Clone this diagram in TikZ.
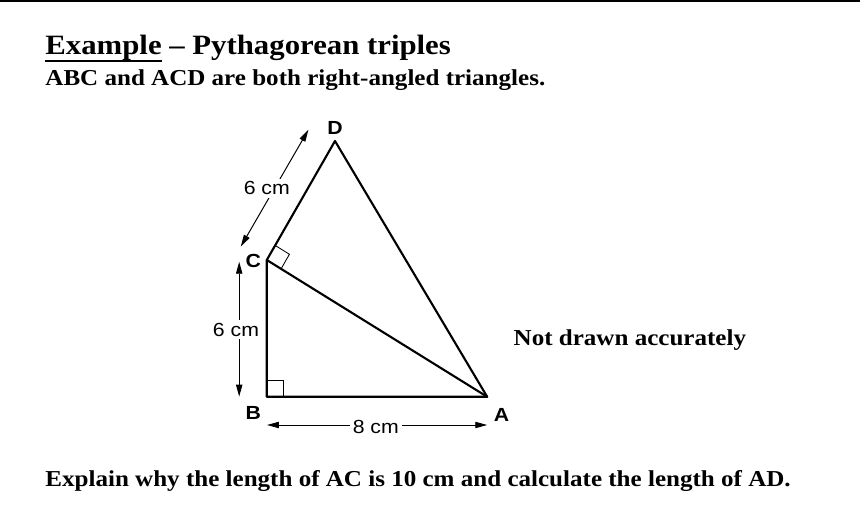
\documentclass[tikz,border=0pt]{standalone}
\usepackage{fontspec}
\setmainfont{Liberation Serif}[FakeStretch=1.1]
\newfontfamily\labelfont{Liberation Sans}[FakeStretch=1.12]
\usepackage{tkz-euclide}
\usetikzlibrary{arrows.meta}
\newcommand\ulword[1]{\setbox0\hbox{#1}\rlap{\rule[-0.29em]{\wd0}{0.075em}}#1}
\tikzset{
  dimline/.style={line width=0.7pt,{Triangle[length=8.5pt,width=4.5pt]}-{Triangle[length=8.5pt,width=4.5pt]}},
  dimlabel/.style={fill=white,inner sep=2pt,font=\labelfont\fontsize{13.5}{16}\selectfont},
  vertex/.style={font=\labelfont\bfseries\fontsize{13.5}{16}\selectfont},
  heading/.style={anchor=base west,inner sep=0pt,font=\bfseries\fontsize{16.2}{19}\selectfont}
}

\begin{document}
\begin{tikzpicture}
  \useasboundingbox (0,0) rectangle (21.5,13.275);
  \tkzDefPoints{0/13.256/L,21.5/13.256/R}
  \tkzDrawSegment[line width=1.1pt](L,R)
  \tkzDefPoints{6.67/3.355/B,12.18/3.355/A,6.67/6.775/C,8.375/9.75/D}
  \tkzDrawPolygon[line width=1.5pt](A,B,C,D)
  \tkzDrawSegment[line width=1.5pt](C,A)
  \tkzMarkRightAngle[size=0.42,line width=0.6pt](A,B,C)
  \tkzMarkRightAngle[size=0.42,line width=0.6pt](A,C,D)
  \node[vertex] (lA) at (12.54,2.9) {A};
  \node[vertex] (lB) at (6.33,2.94) {B};
  \node[vertex] (lC) at (6.33,6.76) {C};
  \node[vertex] (lD) at (8.375,10.07) {D};
  \tkzDefPoints{5.98/6.73/b1,5.98/3.36/b2,6.675/2.65/a1,12.18/2.65/a2,6.02/7.11/c1,7.71/10.03/c2}
  \draw[dimline] (b1) -- (b2);
  \node[dimlabel] (bc) at (5.9,5.03) {6 cm};
  \draw[dimline] (a1) -- (a2);
  \node[dimlabel] (ab) at (9.395,2.61) {8 cm};
  \draw[dimline] (c1) -- (c2);
  \node[dimlabel] (cd) at (6.67,8.57) {6 cm};
  \node[heading,font=\bfseries\fontsize{19.9}{23}\selectfont] (title) at (1.125,11.9175) {\ulword{Example} -- Pythagorean triples};
  \node[heading] (intro) at (1.125,11.1325) {ABC and ACD are both right-angled triangles.};
  \node[heading] (note) at (12.8325,4.6325) {Not drawn accurately};
  \node[heading] (task) at (1.125,1.1075) {Explain why the length of AC is 10 cm and calculate the length of AD.};
\end{tikzpicture}
\end{document}
